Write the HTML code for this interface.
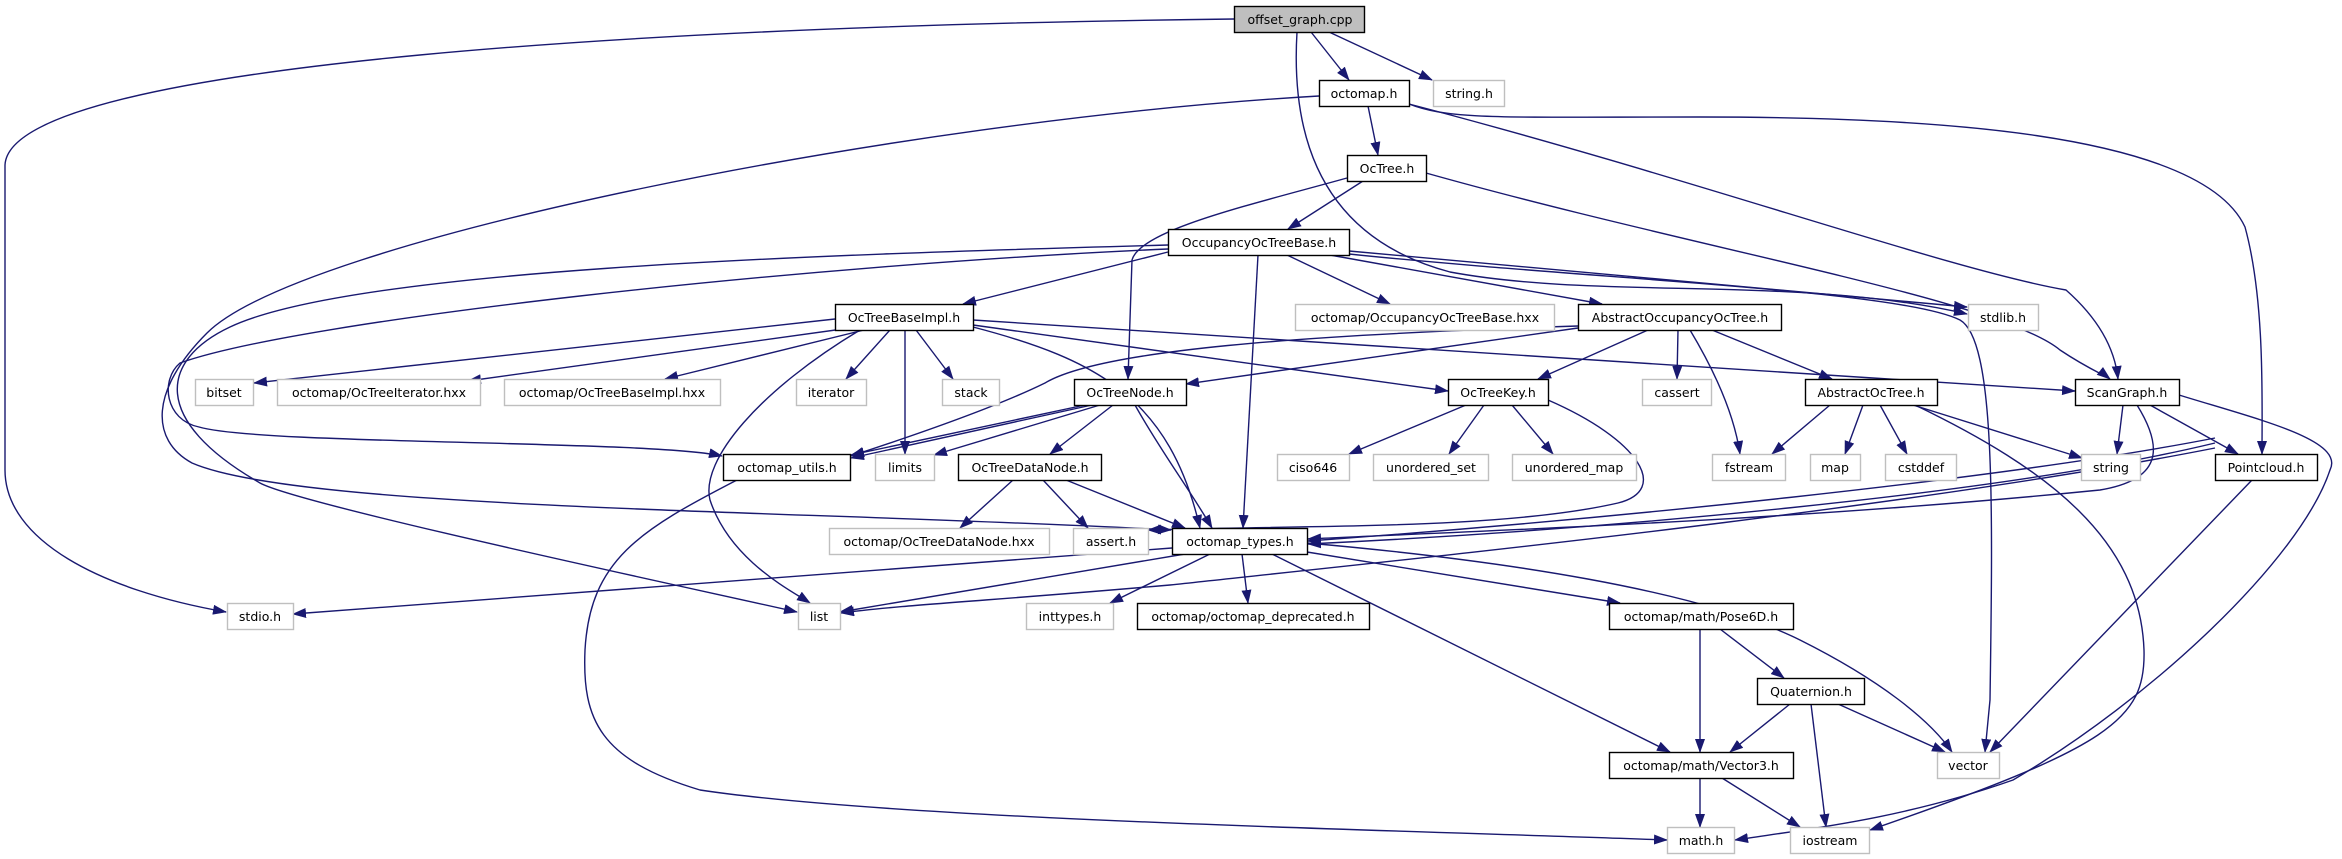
<!DOCTYPE html>
<html><head><meta charset="utf-8"><style>
html,body{margin:0;padding:0;background:#fff;}
svg{display:block}
text{font-family:"DejaVu Sans","Liberation Sans",sans-serif;font-size:12.5px;fill:#000;text-anchor:middle}
.e{fill:none;stroke:#191970;stroke-width:1.4;marker-end:url(#a)}
.n{fill:#fff;stroke:#000;stroke-width:1.4}
.x{fill:#fff;stroke:#bfbfbf;stroke-width:1.4}
</style></head><body>
<svg width="2342" height="859" viewBox="0 0 2342 859" xmlns="http://www.w3.org/2000/svg">
<defs><marker id="a" markerUnits="userSpaceOnUse" markerWidth="14" markerHeight="10" refX="13" refY="5" orient="auto"><path d="M0,0 L14,5 L0,10 z" fill="#191970"/></marker></defs>
<!-- edges -->
<path class="e" d="M1234,19 C700,25 10,60 5,165 L5,470 C5,540 100,590 226,612"/>
<path class="e" d="M1311,32 L1349,80"/>
<path class="e" d="M1329,32 L1432,80"/>
<path class="e" d="M1297,32 C1290,150 1330,240 1450,272 C1600,300 1800,275 1967,314"/>
<path class="e" d="M1319,96 C900,120 300,240 207,333 C150,390 150,440 192,463 C300,510 800,510 1171,530"/>
<path class="e" d="M1168,245 C800,255 350,270 230,327 C160,360 150,420 260,483 C300,505 700,590 797,612"/>
<path class="e" d="M1168,249 C800,265 300,320 180,363 C160,380 165,420 199,427 C260,445 650,440 722,456"/>
<path class="e" d="M1368,106 L1378,155"/>
<path class="e" d="M1409,104 C1700,180 1950,270 2066,290 C2100,320 2115,350 2118,379"/>
<path class="e" d="M1409,104 C1450,120 1500,117 1700,117 C1916,117 2200,130 2245,227 C2265,300 2262,400 2262,454"/>
<path class="e" d="M1363,181 L1288,229"/>
<path class="e" d="M1347,178 C1250,205 1140,230 1132,260 L1128,379"/>
<path class="e" d="M1426,173 C1700,250 2000,300 2060,350 C2090,370 2105,375 2110,379"/>
<path class="e" d="M1168,252 L963,304"/>
<path class="e" d="M1258,255 L1243,528"/>
<path class="e" d="M1287,255 L1390,304"/>
<path class="e" d="M1330,255 L1602,304"/>
<path class="e" d="M1349,251 L1967,307"/>
<path class="e" d="M1349,254 C1600,280 1900,290 1960,320 C1995,340 1993,500 1990,700 L1985,752"/>
<path class="e" d="M835,319 L254,383"/>
<path class="e" d="M850,328 L468,381"/>
<path class="e" d="M864,330 L665,379"/>
<path class="e" d="M890,330 L846,379"/>
<path class="e" d="M916,330 L953,379"/>
<path class="e" d="M905,330 L905,454"/>
<path class="e" d="M860,330 C760,390 700,460 710,500 C730,560 790,590 810,603"/>
<path class="e" d="M973,325 L1448,391"/>
<path class="e" d="M973,320 L2075,391"/>
<path class="e" d="M973,327 C1100,360 1170,400 1200,528"/>
<path class="e" d="M1578,328 L1186,384"/>
<path class="e" d="M1578,326 C1300,335 1100,350 1045,383 C990,410 900,440 851,456"/>
<path class="e" d="M1648,330 L1538,379"/>
<path class="e" d="M1678,330 L1677,379"/>
<path class="e" d="M1690,330 C1720,380 1735,420 1740,454"/>
<path class="e" d="M1712,330 L1832,379"/>
<path class="e" d="M1466,405 L1349,454"/>
<path class="e" d="M1484,405 L1449,454"/>
<path class="e" d="M1512,405 L1553,454"/>
<path class="e" d="M1548,400 C1640,440 1670,490 1618,503 C1500,530 1300,525 1148,530"/>
<path class="e" d="M1830,405 L1772,454"/>
<path class="e" d="M1863,405 L1845,454"/>
<path class="e" d="M1880,405 L1907,454"/>
<path class="e" d="M1913,405 L2082,458"/>
<path class="e" d="M1915,405 C2050,470 2140,540 2144,650 C2146,720 2110,747 1870,830"/>
<path class="e" d="M2123,405 L2117,454"/>
<path class="e" d="M2150,405 L2238,454"/>
<path class="e" d="M2137,405 C2165,450 2160,480 2100,490 C1800,520 1500,530 1308,539"/>
<path class="e" d="M2179,395 C2260,420 2345,440 2330,470 C2300,560 2150,700 2013,780 C1900,820 1800,830 1735,840"/>
<path class="e" d="M2215,438 C2000,480 1600,520 1308,541"/>
<path class="e" d="M2215,443 C2000,495 1600,530 1308,544"/>
<path class="e" d="M2215,448 C1900,510 1400,560 1170,585 C1000,600 900,605 841,613"/>
<path class="e" d="M2252,480 L1990,752"/>
<path class="e" d="M737,480 C640,530 590,560 585,650 C582,720 600,760 700,790 C900,820 1400,830 1667,840"/>
<path class="e" d="M1085,405 L851,455"/>
<path class="e" d="M1092,405 L851,458"/>
<path class="e" d="M1100,405 L934,455"/>
<path class="e" d="M1113,405 L1050,454"/>
<path class="e" d="M1135,405 C1160,450 1190,490 1212,528"/>
<path class="e" d="M1013,480 L960,528"/>
<path class="e" d="M1043,480 L1088,528"/>
<path class="e" d="M1066,480 L1185,528"/>
<path class="e" d="M1172,548 L293,614"/>
<path class="e" d="M1185,554 L840,612"/>
<path class="e" d="M1210,554 L1110,603"/>
<path class="e" d="M1242,554 L1248,603"/>
<path class="e" d="M1307,552 L1620,603"/>
<path class="e" d="M1272,554 L1670,752"/>
<path class="e" d="M1307,543 C1500,560 1700,590 1800,640 C1880,680 1930,720 1952,752"/>
<path class="e" d="M1700,629 L1700,752"/>
<path class="e" d="M1720,629 L1784,678"/>
<path class="e" d="M1790,704 L1730,752"/>
<path class="e" d="M1811,704 L1826,827"/>
<path class="e" d="M1838,704 L1945,752"/>
<path class="e" d="M1700,778 L1700,827"/>
<path class="e" d="M1722,778 L1800,827"/>
<!-- nodes -->
<rect x="1234.5" y="6.5" width="130" height="26" fill="#bfbfbf" stroke="#000" stroke-width="1.4"/><text x="1300" y="24">offset_graph.cpp</text>
<rect class="n" x="1319.5" y="80.5" width="90" height="26"/><text x="1364" y="98">octomap.h</text>
<rect class="x" x="1433.5" y="80.5" width="71" height="26"/><text x="1469" y="98">string.h</text>
<rect class="n" x="1347.5" y="155.5" width="79" height="26"/><text x="1387" y="173">OcTree.h</text>
<rect class="n" x="1168.5" y="229.5" width="181" height="26"/><text x="1259" y="247">OccupancyOcTreeBase.h</text>
<rect class="n" x="835.5" y="304.5" width="138" height="26"/><text x="904" y="322">OcTreeBaseImpl.h</text>
<rect class="x" x="1295.5" y="304.5" width="259" height="26"/><text x="1425" y="322">octomap/OccupancyOcTreeBase.hxx</text>
<rect class="n" x="1578.5" y="304.5" width="203" height="26"/><text x="1680" y="322">AbstractOccupancyOcTree.h</text>
<rect class="x" x="1968.5" y="304.5" width="70" height="26"/><text x="2003" y="322">stdlib.h</text>
<rect class="x" x="195.5" y="379.5" width="58" height="26"/><text x="224" y="397">bitset</text>
<rect class="x" x="277.5" y="379.5" width="203" height="26"/><text x="379" y="397">octomap/OcTreeIterator.hxx</text>
<rect class="x" x="504.5" y="379.5" width="216" height="26"/><text x="612" y="397">octomap/OcTreeBaseImpl.hxx</text>
<rect class="x" x="796.5" y="379.5" width="70" height="26"/><text x="831" y="397">iterator</text>
<rect class="x" x="942.5" y="379.5" width="57" height="26"/><text x="971" y="397">stack</text>
<rect class="n" x="1074.5" y="379.5" width="112" height="26"/><text x="1130" y="397">OcTreeNode.h</text>
<rect class="n" x="1448.5" y="379.5" width="100" height="26"/><text x="1498" y="397">OcTreeKey.h</text>
<rect class="x" x="1642.5" y="379.5" width="69" height="26"/><text x="1677" y="397">cassert</text>
<rect class="n" x="1805.5" y="379.5" width="132" height="26"/><text x="1871" y="397">AbstractOcTree.h</text>
<rect class="n" x="2075.5" y="379.5" width="104" height="26"/><text x="2127" y="397">ScanGraph.h</text>
<rect class="n" x="723.5" y="454.5" width="127" height="26"/><text x="787" y="472">octomap_utils.h</text>
<rect class="x" x="875.5" y="454.5" width="59" height="26"/><text x="905" y="472">limits</text>
<rect class="n" x="958.5" y="454.5" width="143" height="26"/><text x="1030" y="472">OcTreeDataNode.h</text>
<rect class="x" x="1277.5" y="454.5" width="72" height="26"/><text x="1313" y="472">ciso646</text>
<rect class="x" x="1373.5" y="454.5" width="115" height="26"/><text x="1431" y="472">unordered_set</text>
<rect class="x" x="1512.5" y="454.5" width="124" height="26"/><text x="1574" y="472">unordered_map</text>
<rect class="x" x="1712.5" y="454.5" width="73" height="26"/><text x="1749" y="472">fstream</text>
<rect class="x" x="1810.5" y="454.5" width="50" height="26"/><text x="1835" y="472">map</text>
<rect class="x" x="1885.5" y="454.5" width="71" height="26"/><text x="1921" y="472">cstddef</text>
<rect class="x" x="2081.5" y="454.5" width="59" height="26"/><text x="2111" y="472">string</text>
<rect class="n" x="2215.5" y="454.5" width="102" height="26"/><text x="2266" y="472">Pointcloud.h</text>
<rect class="x" x="829.5" y="528.5" width="220" height="26"/><text x="939" y="546">octomap/OcTreeDataNode.hxx</text>
<rect class="x" x="1073.5" y="528.5" width="75" height="26"/><text x="1111" y="546">assert.h</text>
<rect class="n" x="1172.5" y="528.5" width="135" height="26"/><text x="1240" y="546">octomap_types.h</text>
<rect class="x" x="227.5" y="603.5" width="66" height="26"/><text x="260" y="621">stdio.h</text>
<rect class="x" x="798.5" y="603.5" width="42" height="26"/><text x="819" y="621">list</text>
<rect class="x" x="1026.5" y="603.5" width="87" height="26"/><text x="1070" y="621">inttypes.h</text>
<rect class="n" x="1137.5" y="603.5" width="232" height="26"/><text x="1253" y="621">octomap/octomap_deprecated.h</text>
<rect class="n" x="1609.5" y="603.5" width="184" height="26"/><text x="1701" y="621">octomap/math/Pose6D.h</text>
<rect class="n" x="1757.5" y="678.5" width="107" height="26"/><text x="1811" y="696">Quaternion.h</text>
<rect class="n" x="1609.5" y="752.5" width="184" height="26"/><text x="1701" y="770">octomap/math/Vector3.h</text>
<rect class="x" x="1937.5" y="752.5" width="62" height="26"/><text x="1968" y="770">vector</text>
<rect class="x" x="1667.5" y="827.5" width="67" height="26"/><text x="1701" y="845">math.h</text>
<rect class="x" x="1790.5" y="827.5" width="79" height="26"/><text x="1830" y="845">iostream</text>
</svg>
</body></html>
